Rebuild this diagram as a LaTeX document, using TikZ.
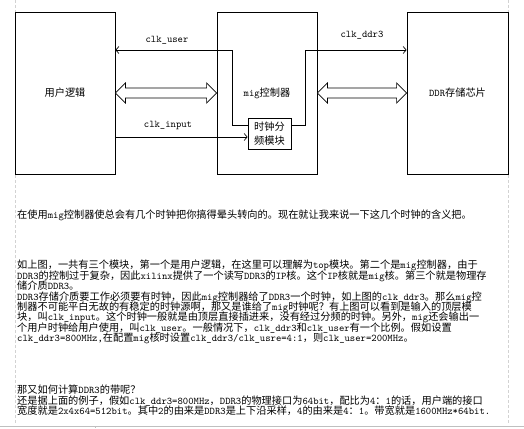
\documentclass[tikz,border=0pt]{standalone}
\usepackage{fontspec}
\newfontfamily\cjk{Noto Sans CJK SC}
% switch to the CJK family for every run of CJK characters
\XeTeXinterchartokenstate=1
\newXeTeXintercharclass\cjkclass
\count255="2E80
\loop\XeTeXcharclass\count255=\cjkclass\ifnum\count255<"9FFF\advance\count255 by 1\repeat
\count255="FF00
\loop\XeTeXcharclass\count255=\cjkclass\ifnum\count255<"FFEF\advance\count255 by 1\repeat
\XeTeXinterchartoks 0 \cjkclass = {\cjk}
\XeTeXinterchartoks 4095 \cjkclass = {\cjk}
\XeTeXinterchartoks \cjkclass 0 = {\ttfamily}
\XeTeXinterchartoks \cjkclass 4095 = {\ttfamily}
\usepackage{tikz}
\usetikzlibrary{positioning,calc,arrows.meta}

\begin{document}
\begin{tikzpicture}[x=1pt,y=-1pt,
	font=\ttfamily\fontsize{10.2}{10.4}\selectfont\lineskiplimit-20pt\relax,
	blok/.style={draw,line width=0.8pt,inner sep=0pt},
	sig/.style={-{Straight Barb[length=3pt,width=7pt]},line width=0.7pt},
	fat/.style={draw,line width=0.7pt,fill=white},
	para/.style={anchor=north west,align=left,inner sep=0pt}]
	\useasboundingbox (0,0) rectangle (524,428);
	
	% page edges
	\draw[gray!35,dash pattern=on 3pt off 2pt,line width=0.6pt] (15,0) -- (15,424);
	\draw[gray!35,dash pattern=on 3pt off 2pt,line width=0.6pt] (508,0) -- (508,424);
	\draw[gray!50,line width=0.8pt] (0,426.5) -- (524,426.5);
	\draw[gray!50,line width=0.6pt] (95,426) -- (95,428);
	
	% draw blocks
	\node[blok,minimum width=100pt,minimum height=162pt] (user) at (65,93) {用户逻辑};
	\node[blok,minimum width=100pt,minimum height=162pt] (mig) at (267,93) {mig控制器};
	\node[blok,minimum width=101pt,minimum height=162pt] (ddr) at (457.5,93) {DDR存储芯片};
	\node[blok,minimum width=43pt,minimum height=31pt,align=center,
		font=\ttfamily\fontsize{10.2}{13.5}\selectfont] (clk) at (269.5,133.5) {时钟分\\频模块};
	
	% fat data links
	\draw[fat] (user.east) -- ++(10,-10) -- ++(0,5) -- ($(mig.west)+(-10,-5)$) -- ++(0,-5) -- (mig.west)
		-- ++(-10,10) -- ++(0,-5) -- ($(user.east)+(10,5)$) -- ++(0,5) -- cycle;
	\draw[fat] (mig.east) -- ++(10,-10) -- ++(0,5) -- ($(ddr.west)+(-10,-5)$) -- ++(0,-5) -- (ddr.west)
		-- ++(-10,10) -- ++(0,-5) -- ($(mig.east)+(10,5)$) -- ++(0,5) -- cycle;
	
	% clocks
	\coordinate (toprow) at (0,50);
	\coordinate (inrow) at (0,137);
	\draw[sig] ([yshift=8.5pt]clk.west) -- ++(-15,0) |- (user.east |- toprow);
	\draw[sig] (user.east |- inrow) -- (clk.west |- inrow);
	\draw[sig] ([yshift=8.5pt]clk.east) -- ++(14,0) |- (ddr.west |- toprow);
	\node (lbuser) at (167,40) {clk\_user};
	\node (lbin) at (168,126) {clk\_input};
	\node (lbddr) at (362,35) {clk\_ddr3};
	
	% text below
	\node[para] (p1) at (17,210) {在使用mig控制器使总会有几个时钟把你搞得晕头转向的。现在就让我来说一下这几个时钟的含义把。};
	\node[para] (p2) at (17,260) {如上图，一共有三个模块，第一个是用户逻辑，在这里可以理解为top模块。第二个是mig控制器，由于\\
		DDR3的控制过于复杂，因此xilinx提供了一个读写DDR3的IP核。这个IP核就是mig核。第三个就是物理存\\
		储介质DDR3。\\
		DDR3存储介质要工作必须要有时钟，因此mig控制器给了DDR3一个时钟，如上图的clk\_ddr3。那么mig控\\
		制器不可能平白无故的有稳定的时钟源啊，那又是谁给了mig时钟呢？有上图可以看到是输入的顶层模\\
		块，叫clk\_input。这个时钟一般就是由顶层直接插进来，没有经过分频的时钟。另外，mig还会输出一\\
		个用户时钟给用户使用，叫clk\_user。一般情况下，clk\_ddr3和clk\_user有一个比例。假如设置\\
		clk\_ddr3=800MHz,在配置mig核时设置clk\_ddr3/clk\_usre=4:1，则clk\_user=200MHz。};
	\node[para] (p3) at (17,385) {那又如何计算DDR3的带呢？\\
		还是据上面的例子，假如clk\_ddr3=800MHz，DDR3的物理接口为64bit，配比为4：1的话，用户端的接口\\
		宽度就是2x4x64=512bit。其中2的由来是DDR3是上下沿采样，4的由来是4：1。带宽就是1600MHz*64bit.};
\end{tikzpicture}
\end{document}
